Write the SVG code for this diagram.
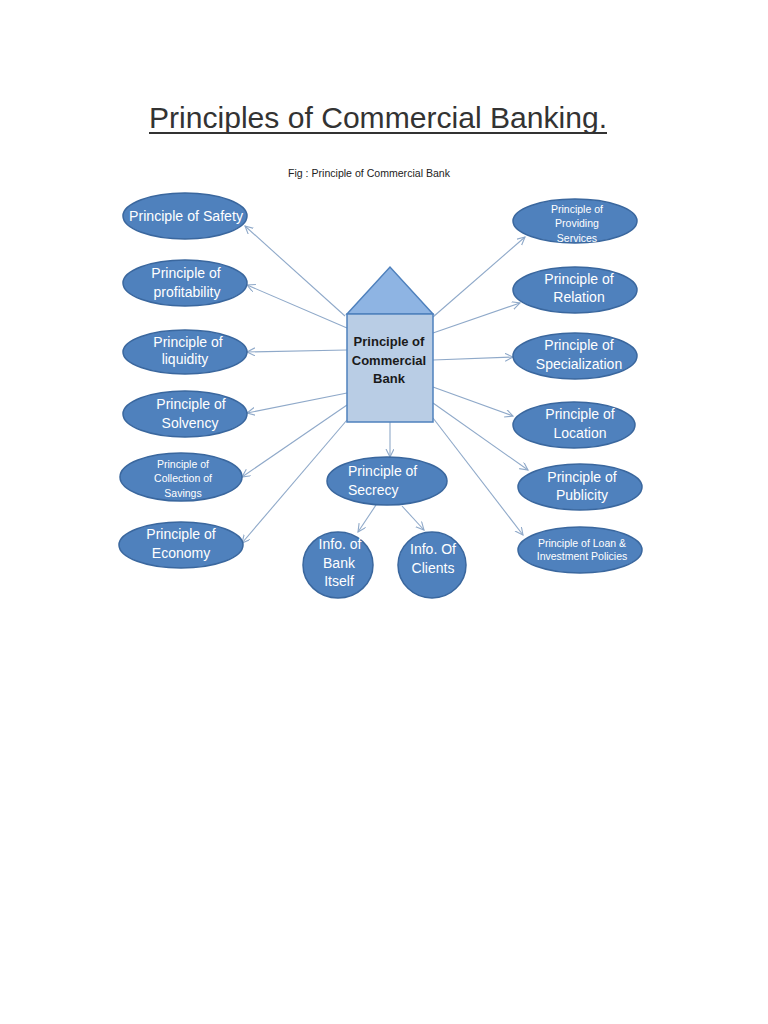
<svg xmlns="http://www.w3.org/2000/svg" width="768" height="1024" viewBox="0 0 768 1024">
<style>
.title{font-family:"Liberation Sans",Arial,sans-serif;font-size:30px;fill:#333}
.cap{font-family:"Liberation Sans",Arial,sans-serif;font-size:10.5px;fill:#222}
.ov{fill:#4f81bd;stroke:#3a679e;stroke-width:1.5}
.t{font-family:"Liberation Sans",Arial,sans-serif;font-size:14px;fill:#fff;text-anchor:middle}
.s{font-family:"Liberation Sans",Arial,sans-serif;font-size:10.5px;fill:#fff;text-anchor:middle}
.b{font-family:"Liberation Sans",Arial,sans-serif;font-size:13px;font-weight:bold;fill:#1a1a1a;text-anchor:middle}
.c{stroke:#8fa9c9;stroke-width:1.1;fill:none;marker-end:url(#ah)}
</style>
<defs>
<marker id="ah" markerWidth="10" markerHeight="10" refX="8" refY="4" orient="auto" markerUnits="userSpaceOnUse">
<path d="M0,0 L8,4 L0,8" fill="none" stroke="#8fa9c9" stroke-width="1.1"/>
</marker>
</defs>
<rect width="768" height="1024" fill="#fff"/>
<text class="title" x="149" y="128" textLength="458" lengthAdjust="spacingAndGlyphs">Principles of Commercial Banking.</text>
<rect x="149" y="132" width="458" height="2" fill="#333"/>
<text class="cap" x="288" y="177" textLength="162" lengthAdjust="spacingAndGlyphs">Fig : Principle of Commercial Bank</text>

<g id="connectors">
<line class="c" x1="345" y1="316" x2="245" y2="226"/>
<line class="c" x1="347" y1="328" x2="247" y2="285"/>
<line class="c" x1="347" y1="350" x2="247" y2="352"/>
<line class="c" x1="347" y1="393" x2="247" y2="413"/>
<line class="c" x1="347" y1="405" x2="242" y2="477"/>
<line class="c" x1="347" y1="420" x2="242" y2="543"/>
<line class="c" x1="390" y1="422" x2="390" y2="457"/>
<line class="c" x1="376" y1="505" x2="358" y2="532"/>
<line class="c" x1="402" y1="506" x2="424" y2="530"/>
<line class="c" x1="433" y1="317" x2="525" y2="237"/>
<line class="c" x1="433" y1="333" x2="520" y2="303"/>
<line class="c" x1="433" y1="360" x2="513" y2="357"/>
<line class="c" x1="433" y1="387" x2="513" y2="416"/>
<line class="c" x1="433" y1="403" x2="528" y2="470"/>
<line class="c" x1="433" y1="418" x2="523" y2="535"/>
</g>

<g id="center">
<polygon points="347,314 390,267 433,314" fill="#8eb4e3" stroke="#4f81bd" stroke-width="1.5"/>
<rect x="347" y="314" width="86" height="108" fill="#b9cde5" stroke="#4f81bd" stroke-width="1.5"/>
<text class="b" x="389" y="346">Principle of</text>
<text class="b" x="389" y="365">Commercial</text>
<text class="b" x="389" y="383">Bank</text>
</g>

<g id="safety"><ellipse class="ov" cx="185" cy="216" rx="62" ry="23"/><text class="t" x="186" y="221" textLength="114" lengthAdjust="spacingAndGlyphs">Principle of Safety</text></g>
<g id="profitability"><ellipse class="ov" cx="185" cy="283" rx="62" ry="23"/><text class="t" x="186" y="278">Principle of</text><text class="t" x="187" y="297">profitability</text></g>
<g id="liquidity"><ellipse class="ov" cx="185" cy="352" rx="62" ry="22"/><text class="t" x="188" y="347">Principle of</text><text class="t" x="185" y="364">liquidity</text></g>
<g id="solvency"><ellipse class="ov" cx="185" cy="414" rx="62" ry="23"/><text class="t" x="191" y="409">Principle of</text><text class="t" x="190" y="428">Solvency</text></g>
<g id="collection"><ellipse class="ov" cx="181" cy="477" rx="61" ry="24"/><text class="s" x="183" y="468">Principle of</text><text class="s" x="183" y="482">Collection of</text><text class="s" x="183" y="497">Savings</text></g>
<g id="economy"><ellipse class="ov" cx="181" cy="545" rx="62" ry="23"/><text class="t" x="181" y="539">Principle of</text><text class="t" x="181" y="558">Economy</text></g>

<g id="secrecy"><ellipse class="ov" cx="387" cy="481" rx="60" ry="24"/><text class="t" x="348" y="476" style="text-anchor:start">Principle of</text><text class="t" x="348" y="495" style="text-anchor:start">Secrecy</text></g>
<g id="bank-itself"><ellipse class="ov" cx="338" cy="565" rx="35" ry="33"/><text class="t" x="340" y="549">Info. of</text><text class="t" x="339" y="568">Bank</text><text class="t" x="339" y="586">Itself</text></g>
<g id="clients"><ellipse class="ov" cx="432" cy="565" rx="34" ry="33"/><text class="t" x="433" y="554">Info. Of</text><text class="t" x="433" y="573">Clients</text></g>

<g id="services"><ellipse class="ov" cx="575" cy="221" rx="62" ry="22"/><text class="s" x="577" y="213">Principle of</text><text class="s" x="577" y="227">Providing</text><text class="s" x="577" y="242">Services</text></g>
<g id="relation"><ellipse class="ov" cx="575" cy="290" rx="62" ry="23"/><text class="t" x="579" y="284">Principle of</text><text class="t" x="579" y="302">Relation</text></g>
<g id="specialization"><ellipse class="ov" cx="575" cy="356" rx="62" ry="23"/><text class="t" x="579" y="350">Principle of</text><text class="t" x="579" y="369">Specialization</text></g>
<g id="location"><ellipse class="ov" cx="574" cy="425" rx="61" ry="23"/><text class="t" x="580" y="419">Principle of</text><text class="t" x="580" y="438">Location</text></g>
<g id="publicity"><ellipse class="ov" cx="580" cy="487" rx="62" ry="23"/><text class="t" x="582" y="482">Principle of</text><text class="t" x="582" y="500">Publicity</text></g>
<g id="loan"><ellipse class="ov" cx="580" cy="550" rx="62" ry="23"/><text class="s" x="582" y="547">Principle of Loan &amp;</text><text class="s" x="582" y="560">Investment Policies</text></g>
</svg>
